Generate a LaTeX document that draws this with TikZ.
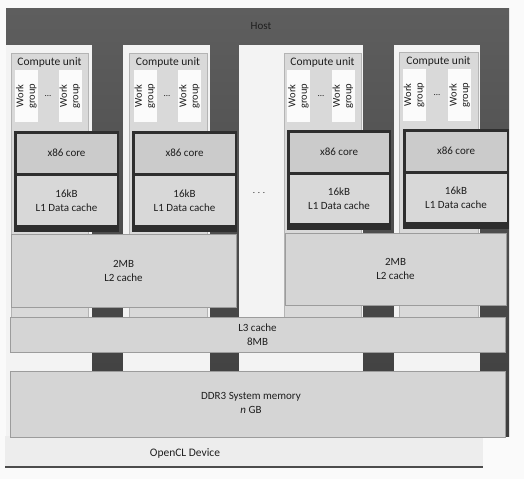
\documentclass[tikz,border=0pt]{standalone}
\usepackage{fontspec}
\setmainfont{Carlito}
\definecolor{pagewhite}{HTML}{FAFAFA}
\definecolor{panelwhite}{HTML}{F3F3F3}
\definecolor{hosttop}{HTML}{5E5E5E}
\definecolor{hostmid}{HTML}{727272}
\definecolor{hostbot}{HTML}{3E3E3E}
\definecolor{cugray}{HTML}{D9D9D9}
\definecolor{cuborder}{HTML}{B4B4B4}
\definecolor{wgwhite}{HTML}{FBFBFB}
\definecolor{coredark}{HTML}{2E2E2E}
\definecolor{x86gray}{HTML}{CBCBCB}
\definecolor{l1gray}{HTML}{D8D8D8}
\definecolor{cachegray}{HTML}{D5D5D5}
\definecolor{cacheborder}{HTML}{9C9C9C}
\definecolor{devgray}{HTML}{EDEDED}
\definecolor{txtgray}{HTML}{1E1E1E}
\newcommand\blk[7]{\node[#6,anchor=north west,inner sep=0pt,outer sep=0pt,minimum width={(#4)-(#2)},minimum height={(#5)-(#3)}] (#1) at ({#2},{#3}) {#7};}
\tikzset{
  txt/.style={font=\fontsize{11}{14}\selectfont,text=txtgray,align=center,inner sep=0pt},
  hostbox/.style={shading=axis,top color=hosttop,middle color=hostmid,bottom color=hostbot,draw=none},
  panel/.style={fill=panelwhite,draw=none},
  devstrip/.style={fill=devgray,draw=none},
  cubox/.style={fill=cugray,draw=cuborder,line width=0.7pt},
  wgbox/.style={fill=wgwhite,draw=none,rotate=90,inner sep=0pt,minimum width=52pt,minimum height=23pt,
    font=\fontsize{10.5}{11.5}\selectfont,text=txtgray,align=center},
  coreouter/.style={fill=coredark,draw=none},
  x86in/.style={fill=x86gray,draw=none,txt},
  l1in/.style={fill=l1gray,draw=none,txt},
  cachebox/.style={fill=cachegray,draw=cacheborder,line width=0.8pt,txt}
}
\begin{document}
\begin{tikzpicture}[x=1pt,y=-1pt]
% page
\blk{page}{0}{0}{524}{479}{fill=pagewhite,draw=none}{}
\useasboundingbox (0,0) rectangle (524,479);
% host
\blk{host}{6}{8}{509}{436}{hostbox}{}
\node[txt] (hostlbl) at (261,26) {Host};
% OpenCL device panels
\blk{p1}{6}{45}{92}{436}{panel}{}
\blk{p2}{123}{45}{210}{436}{panel}{}
\blk{p3}{239}{45}{363}{436}{panel}{}
\blk{p4}{394}{45}{480}{436}{panel}{}
\blk{dev}{5}{436}{483}{467}{devstrip}{}
\draw[line width=1.2pt,draw=black!70] (dev.south west) -- (dev.south east);
\node[txt,font=\fontsize{11.5}{14}\selectfont] (devlbl) at (185,453) {OpenCL Device};
% compute units
\blk{cu1}{11}{53}{88}{317}{cubox}{}
\blk{cu2}{129}{53}{207}{317}{cubox}{}
\blk{cu3}{284}{53}{361}{317}{cubox}{}
\blk{cu4}{399}{52}{478}{317}{cubox}{}
\node[txt,font=\fontsize{11.5}{14}\selectfont] (cu1l) at (49.5,62) {Compute unit};
\node[txt,font=\fontsize{11.5}{14}\selectfont] (cu2l) at (168,62) {Compute unit};
\node[txt,font=\fontsize{11.5}{14}\selectfont] (cu3l) at (322.5,62) {Compute unit};
\node[txt,font=\fontsize{11.5}{14}\selectfont] (cu4l) at (438.5,61) {Compute unit};
% work groups
\node[wgbox] (wg1a) at (26.5,96) {Work\\group};
\node[wgbox] (wg1b) at (70,96) {Work\\group};
\node[wgbox] (wg2a) at (145,96) {Work\\group};
\node[wgbox] (wg2b) at (189.5,96) {Work\\group};
\node[wgbox] (wg3a) at (298.5,96) {Work\\group};
\node[wgbox] (wg3b) at (343,96) {Work\\group};
\node[wgbox] (wg4a) at (414,95) {Work\\group};
\node[wgbox] (wg4b) at (459.5,95) {Work\\group};
\node[txt,font=\fontsize{9}{10}\selectfont] (d1) at (48,96) {...};
\node[txt,font=\fontsize{9}{10}\selectfont] (d2) at (167,96) {...};
\node[txt,font=\fontsize{9}{10}\selectfont] (d3) at (321,96) {...};
\node[txt,font=\fontsize{9}{10}\selectfont] (d4) at (437,95) {...};
% x86 cores
\blk{c1}{14}{131}{119}{232}{coreouter}{}
\blk{c1x}{14+2.5}{131+2.5}{119-2.5}{131+42}{x86in}{x86 core}
\blk{c1l}{14+2.5}{131+45}{119-2.5}{232-7}{l1in}{16kB\\L1 Data cache}
\blk{c2}{132}{131}{237}{232}{coreouter}{}
\blk{c2x}{132+2.5}{131+2.5}{237-2.5}{131+42}{x86in}{x86 core}
\blk{c2l}{132+2.5}{131+45}{237-2.5}{232-7}{l1in}{16kB\\L1 Data cache}
\blk{c3}{287}{130}{391}{230}{coreouter}{}
\blk{c3x}{287+2.5}{130+2.5}{391-2.5}{130+42}{x86in}{x86 core}
\blk{c3l}{287+2.5}{130+45}{391-2.5}{230-7}{l1in}{16kB\\L1 Data cache}
\blk{c4}{403}{129}{509}{229}{coreouter}{}
\blk{c4x}{403+2.5}{129+2.5}{509-2.5}{129+42}{x86in}{x86 core}
\blk{c4l}{403+2.5}{129+45}{509-2.5}{229-7}{l1in}{16kB\\L1 Data cache}
\node[txt,font=\fontsize{9}{10}\selectfont] (mdots) at (259,193) {. . .};
% caches
\blk{l2a}{11}{234}{236}{307}{cachebox}{2MB\\L2 cache}
\blk{l2b}{285}{233}{506}{305}{cachebox}{2MB\\L2 cache}
\blk{l3}{10}{317}{505}{352}{cachebox}{L3 cache\\8MB}
\blk{ddr}{10}{371}{505}{437}{cachebox}{}
\node[txt] (ddrlbl) at (251,403) {DDR3 System memory\\\textit{n} GB};
\end{tikzpicture}
\end{document}
